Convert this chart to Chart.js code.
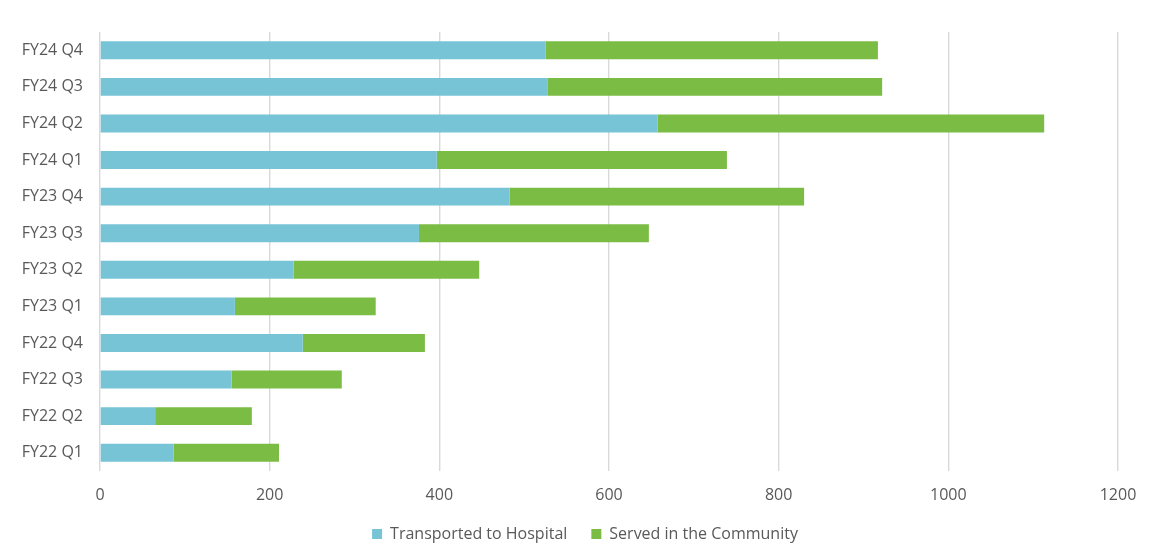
<!DOCTYPE html>
<html>
<head>
<meta charset="utf-8">
<script src="https://cdn.jsdelivr.net/npm/chart.js@4"></script>
<style>
  html, body { margin: 0; padding: 0; background: #ffffff; }
  #wrap { width: 1154px; height: 560px; position: relative; }
</style>
</head>
<body>
<div id="wrap"><canvas id="c" width="1154" height="560"></canvas></div>
<script>
const categories = ["FY22 Q1","FY22 Q2","FY22 Q3","FY22 Q4","FY23 Q1","FY23 Q2","FY23 Q3","FY23 Q4","FY24 Q1","FY24 Q2","FY24 Q3","FY24 Q4"];
const transportedToHospital = [87, 65, 155, 239, 159, 228, 376, 483, 397, 657, 528, 525];
const servedInCommunity = [124, 114, 130, 144, 166, 219, 271, 347, 342, 456, 394, 392];
const xTicks = [0, 200, 400, 600, 800, 1000, 1200];

const textColor = '#595959';
const fontFamily = "'Open Sans', 'DejaVu Sans', sans-serif";

const legendShift = {
  id: 'legendShift',
  afterLayout(chart) {
    if (chart.legend) { chart.legend.left += 26; chart.legend.right += 26; }
  }
};

new Chart(document.getElementById('c'), {
  type: 'bar',
  data: {
    labels: categories,
    datasets: [
      { label: 'Transported to Hospital', data: transportedToHospital, backgroundColor: '#77C4D6', borderWidth: 0 },
      { label: 'Served in the Community', data: servedInCommunity, backgroundColor: '#7BBD44', borderWidth: 0 }
    ]
  },
  plugins: [legendShift],
  options: {
    indexAxis: 'y',
    responsive: false,
    animation: false,
    layout: { padding: { left: 0, right: 36, top: 32, bottom: 8 } },
    datasets: { bar: { categoryPercentage: 1.0, barPercentage: 0.49 } },
    scales: {
      x: {
        stacked: true,
        min: 0, max: 1200,
        afterBuildTicks: (s) => { s.ticks = xTicks.map(v => ({ value: v })); },
        grid: { color: '#D9D9D9', lineWidth: 1.4, drawTicks: false },
        border: { display: false },
        ticks: { color: textColor, font: { family: fontFamily, size: 16 }, padding: 15, callback: (v) => String(v) },
        afterFit: (s) => { s.height = 31; }
      },
      y: {
        stacked: true,
        reverse: true,
        grid: { display: false, drawTicks: false },
        border: { display: false },
        ticks: { color: textColor, font: { family: fontFamily, size: 16 }, padding: 17 },
        afterFit: (s) => { s.width = 100; }
      }
    },
    plugins: {
      legend: {
        position: 'bottom',
        labels: { color: textColor, font: { family: fontFamily, size: 16 }, boxWidth: 10, boxHeight: 10, padding: 24 }
      },
      tooltip: { enabled: false }
    }
  }
});
</script>
</body>
</html>
